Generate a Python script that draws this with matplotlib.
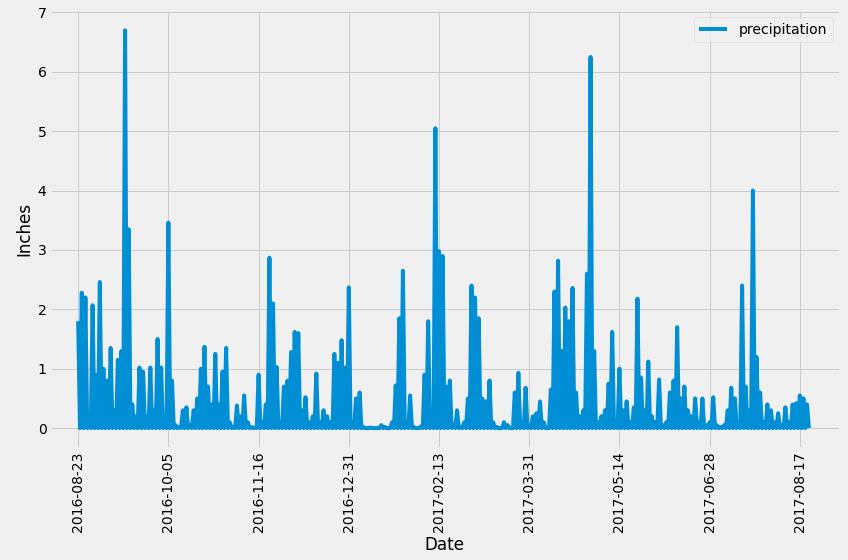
import numpy as np
import matplotlib
matplotlib.use("Agg")
import matplotlib.pyplot as plt

tick_labels = ["2016-08-23", "2016-10-05", "2016-11-16", "2016-12-31", "2017-02-13",
               "2017-03-31", "2017-05-14", "2017-06-28", "2017-08-17"]

# precipitation readings, in row order (25 rows per tick interval)
prcp = [
    1.8, 2.28, 2.2, 0.2, 2.07, 0.9, 2.46, 1.0, 0.8, 1.35, 0.3, 1.15, 1.3, 6.7, 3.35, 0.4, 0.2, 1.02, 0.95, 0.2, 1.02, 0.3, 1.5, 1.02, 0.1,
    3.46, 0.8, 0.05, 0.02, 0.3, 0.35, 0.05, 0.3, 0.5, 1.0, 1.37, 0.7, 0.4, 1.25, 0.4, 0.95, 1.35, 0.1, 0.02, 0.38, 0.2, 0.55, 0.1, 0.02, 0.01,
    0.9, 0.1, 0.4, 2.87, 2.1, 1.03, 0.1, 0.7, 0.8, 1.28, 1.62, 1.6, 0.3, 0.52, 0.1, 0.2, 0.92, 0.1, 0.3, 0.2, 0.1, 1.25, 1.1, 1.48, 1.02,
    2.37, 0.1, 0.5, 0.6, 0.02, 0.0, 0.01, 0.0, 0.0, 0.05, 0.02, 0.0, 0.1, 0.72, 1.85, 2.65, 0.1, 0.55, 0.02, 0.0, 0.03, 0.9, 1.8, 0.3, 5.05,
    2.98, 2.9, 0.7, 0.8, 0.05, 0.3, 0.02, 0.1, 0.5, 2.4, 2.2, 1.85, 0.5, 0.45, 0.8, 0.1, 0.02, 0.0, 0.1, 0.05, 0.0, 0.6, 0.93, 0.1, 0.68,
    0.05, 0.2, 0.25, 0.45, 0.1, 0.0, 0.65, 2.3, 2.82, 1.3, 2.03, 1.8, 2.36, 0.6, 0.2, 0.3, 2.6, 6.25, 1.3, 0.1, 0.2, 0.3, 0.75, 1.62, 0.1,
    1.0, 0.3, 0.45, 0.1, 0.35, 2.18, 0.85, 0.3, 1.12, 0.2, 0.1, 0.82, 0.05, 0.1, 0.6, 0.8, 1.7, 0.5, 0.7, 0.3, 0.2, 0.5, 0.1, 0.5, 0.05,
    0.1, 0.52, 0.05, 0.02, 0.05, 0.3, 0.68, 0.5, 0.1, 2.4, 0.7, 0.3, 4.0, 1.2, 0.6, 0.1, 0.4, 0.3, 0.1, 0.25, 0.05, 0.35, 0.1, 0.4, 0.42,
    0.55, 0.5, 0.4,
]
rows_per_tick = 25

plt.style.use("fivethirtyeight")
fig, ax = plt.subplots(figsize=(848 / 72, 560 / 72), dpi=72)

# readings alternate with dry rows, so the line drops to zero between them
n = len(prcp)
x = np.arange(2 * n) / 2.0
y = np.zeros(2 * n)
y[0::2] = prcp

ax.plot(x, y, label="precipitation", linewidth=4)
ax.set_xticks(np.arange(len(tick_labels)) * rows_per_tick)
ax.set_xticklabels(tick_labels, rotation=90)
ax.set_xlabel("Date")
ax.set_ylabel("Inches")
ax.set_xlim(-7.8, 211)
ax.set_ylim(-0.335, 7.04)
ax.legend(loc="upper right")
fig.subplots_adjust(left=0.059, right=0.99, top=0.982, bottom=0.2)
fig.savefig("out.png")
